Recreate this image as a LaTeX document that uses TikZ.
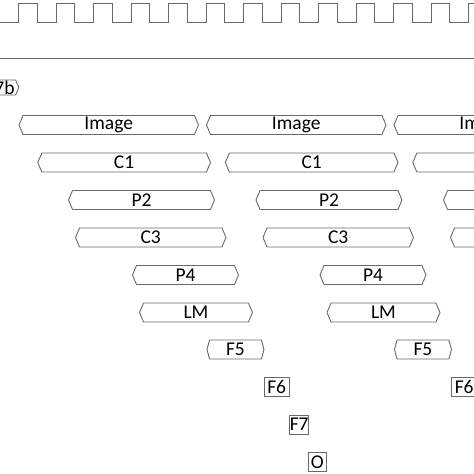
\documentclass[tikz,border=0pt]{standalone}
\usepackage{fontspec}
\setmainfont{Carlito}
\usepackage{tikz}
\usetikzlibrary{shapes,shapes.symbols,positioning}
\definecolor{linegray}{RGB}{105,105,105}

\begin{document}
\begin{tikzpicture}[x=1pt,y=-1pt,
    wavestyle/.style={draw=linegray,line width=0.9pt},
    busstyle/.style={signal,signal to=west and east,signal pointer angle=134,draw=linegray,line width=0.9pt,
        minimum height=19pt,inner sep=0pt,font=\fontsize{19.5}{22}\selectfont},
    slotstyle/.style={rectangle,draw=linegray,line width=0.9pt,minimum height=19pt,inner sep=0pt,
        font=\fontsize{19.5}{22}\selectfont}]
\useasboundingbox (0,0) rectangle (474,474);
\clip (0,0) rectangle (474,474);
% clock
\draw[wavestyle] (0,22) \foreach \k in {0,...,11} {-- ({18.5+37.5*\k},22) -- ++(0,-19) -- ++(18.75,0) -- ++(0,19)}
    -- (468.5,22) -- (468.5,3) -- (474,3);
\draw[wavestyle] (0,58.5) -- (474,58.5);
\node[busstyle,anchor=east,minimum height=15pt,inner xsep=1pt] (tb) at (19.3,87.5) {7b};
% stages
\foreach \name/\txt/\row/\s/\w/\n in {img/Image/1/18.5/179.5/2,c1/C1/2/37.3/172.7/2,p2/P2/3/68/146/2,
    c3/C3/4/75/150.5/2,p4/P4/5/132/106/1,lm/LM/6/139/113/1}
  \foreach \k in {0,...,\n}
    \node[busstyle,anchor=west,minimum width=\w pt] (\name\k) at ({\s+187.5*\k},{87.5+37.5*\row}) {\txt};
\foreach \k in {0,1}
  \node[busstyle,signal pointer angle=150,anchor=west,minimum width=57pt] (f5\k) at ({206.5+187.5*\k},349.5) {F5};
\foreach \k in {0,1}
  \node[slotstyle,anchor=west,minimum width=25.5pt] (f6\k) at ({263.5+187.5*\k},387) {F6};
\node[slotstyle,anchor=west,minimum width=18pt] (f7) at (289.3,424.5) {F7};
\node[slotstyle,anchor=west,minimum width=18pt] (out) at (308,462) {O};
\end{tikzpicture}
\end{document}
